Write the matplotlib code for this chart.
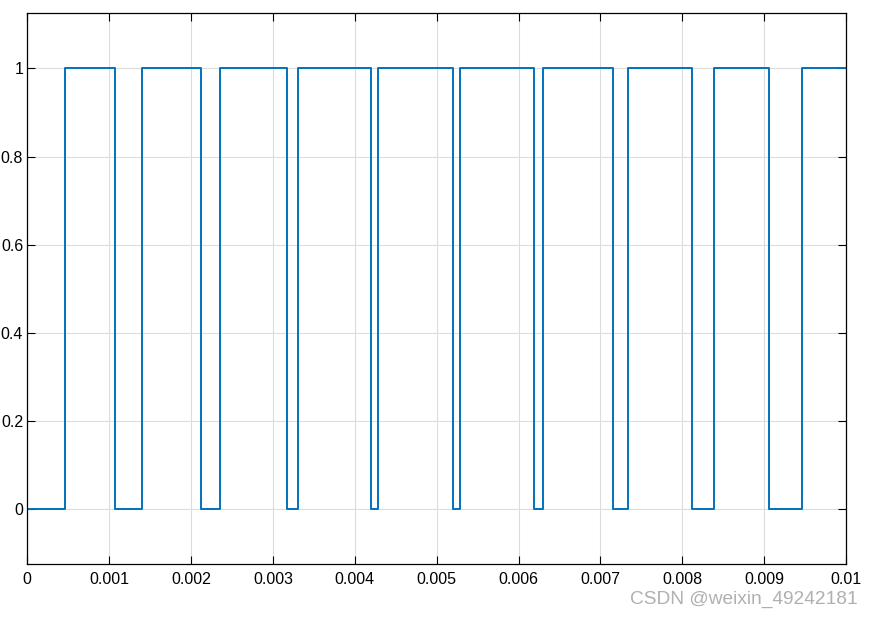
import matplotlib
matplotlib.use("Agg")
import matplotlib.pyplot as plt
from matplotlib.ticker import FuncFormatter
import numpy as np

# switching instants (s); signal starts low
switch_times = [0.000463, 0.001066, 0.001402, 0.002122, 0.002350, 0.003171,
                0.003307, 0.004200, 0.004289, 0.005204, 0.005280, 0.006195,
                0.006298, 0.007159, 0.007334, 0.008115, 0.008390, 0.009057,
                0.009460]
start_level = 0
t_end = 0.01

x_ticks = [0, 0.001, 0.002, 0.003, 0.004, 0.005, 0.006, 0.007, 0.008, 0.009, 0.01]
y_ticks = [0, 0.2, 0.4, 0.6, 0.8, 1]

plt.rcParams['font.family'] = ['Liberation Sans', 'DejaVu Sans']

t = np.array([0.0] + switch_times + [t_end])
levels = [(start_level + i) % 2 for i in range(len(switch_times) + 1)]
levels = np.array(levels + [levels[-1]])

fig = plt.figure(figsize=(8.75, 6.19), dpi=100)
ax = fig.add_axes([27.3 / 875, 55 / 619, (846 - 27.3) / 875, (564 - 13.3) / 619])

ax.step(t, levels, where='post', color='#0072BD', lw=1.4)

ax.set_xlim(0, t_end)
ax.set_ylim(-0.124, 1.125)
ax.set_xticks(x_ticks)
ax.set_yticks(y_ticks)
ax.xaxis.set_major_formatter(FuncFormatter(lambda v, p: '0' if v == 0 else f'{v:g}'))
ax.yaxis.set_major_formatter(FuncFormatter(lambda v, p: f'{v:g}'))
ax.tick_params(direction='in', length=6, width=0.8, top=True, right=True,
               labelsize=11.5, colors='black')
ax.tick_params(axis='x', pad=6)
ax.tick_params(axis='y', pad=3)
ax.grid(True, color='#dcdcdc', lw=0.8)
ax.set_axisbelow(True)
for s in ax.spines.values():
    s.set_linewidth(0.9)
    s.set_color('black')

fig.text(858 / 875, 1 - 599 / 619, 'CSDN @weixin_49242181', ha='right', va='center',
         fontsize=13.8, color='#b0b0b0')

fig.savefig('out.png', dpi=100)
